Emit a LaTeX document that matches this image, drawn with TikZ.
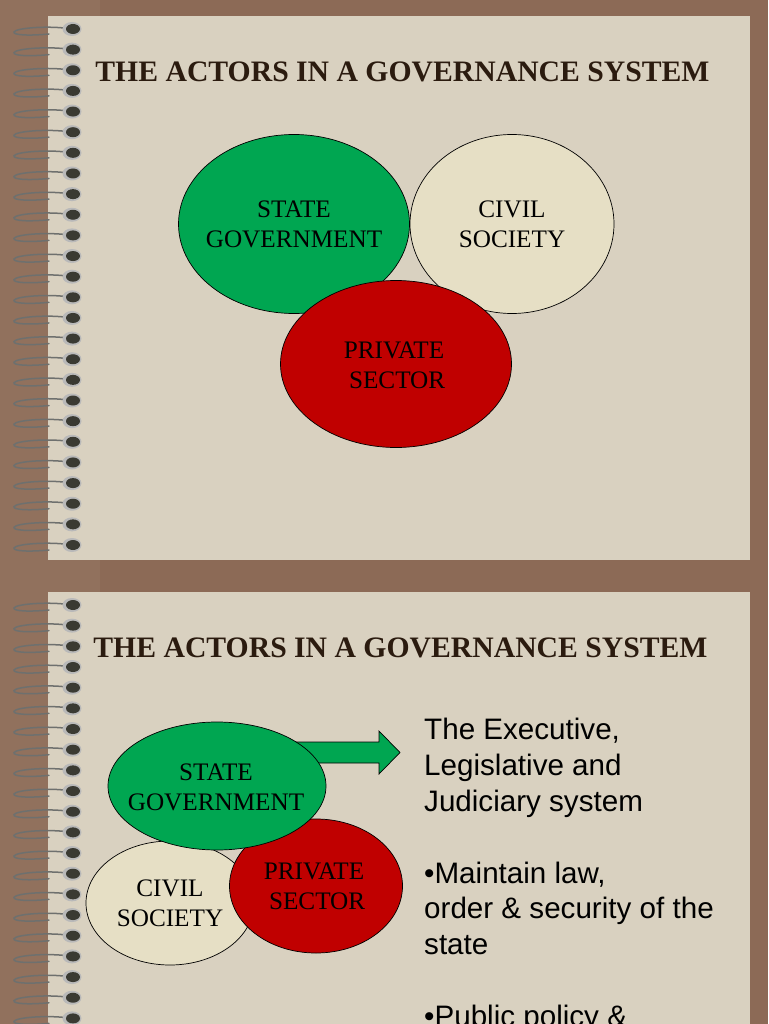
\documentclass[tikz,border=0pt]{standalone}
\usepackage{fontspec}
\setmainfont{Liberation Serif}
\newfontfamily\arialfont{Liberation Sans}
\usetikzlibrary{shapes.geometric}
\definecolor{bgbrown}{HTML}{8C6A56}
\definecolor{stripbrown}{HTML}{91715D}
\definecolor{paper}{HTML}{D9D1C0}
\definecolor{titlebrown}{HTML}{2B1B0F}
\definecolor{govgreen}{HTML}{00A651}
\definecolor{civilbeige}{HTML}{E6DFC5}
\definecolor{privred}{HTML}{C00000}
\definecolor{wire}{HTML}{6E706E}
\definecolor{holedark}{HTML}{3A3A32}
\tikzset{
  actor/.style={ellipse, draw=black, line width=0.7pt, inner sep=0pt},
  actortext/.style={align=center, font=\fontsize{25.2}{30}\selectfont, text=black},
  slidetitle/.style={font=\bfseries\fontsize{29.7}{34}\selectfont, text=titlebrown, anchor=base},
  bodyline/.style={font=\arialfont\fontsize{29.6}{36}\selectfont, anchor=base west, inner sep=0pt, text=black},
  ring/.pic={
    \draw[wire, line width=1.5pt, line cap=round] (49,5) .. controls (28,7) and (13,6) .. (14,3)
       .. controls (16,-1) and (45,-3) .. (64,-1);
    \fill[gray!55] (72,0) ellipse [x radius=9.5pt, y radius=7pt];
    \fill[holedark] (73,0) ellipse [x radius=7pt, y radius=5pt];
  },
}
\begin{document}
\begin{tikzpicture}[x=1pt, y=-1pt]
\useasboundingbox (0,0) rectangle (768,1024);
\clip (0,0) rectangle (768,1024);
% background
\fill[bgbrown] (0,0) rectangle (768,1024);
\fill[stripbrown] (0,0) rectangle (100,1024);
% slides
\fill[paper] (48,16) rectangle (750,560);
\fill[paper] (48,592) rectangle (750,1030);
% spiral rings
\foreach \k in {0,...,25} { \pic at (0,{29+\k*20.64}) {ring}; }
\foreach \k in {0,...,20} { \pic at (0,{605+\k*20.67}) {ring}; }

% ---------- slide 1 ----------
\node[slidetitle] (title1) at (402.5,82) {THE ACTORS IN A GOVERNANCE SYSTEM};
\node[actor, fill=govgreen, minimum width=231pt, minimum height=179pt] (sg1) at (294,224) {};
\node[actortext] (sg1t) at (sg1.center) {STATE\\GOVERNMENT};
\node[actor, fill=civilbeige, minimum width=204pt, minimum height=179pt] (cs1) at (512,224) {};
\node[actortext] (cs1t) at (cs1.center) {CIVIL\\SOCIETY};
\node[actor, fill=privred, minimum width=231pt, minimum height=167pt] (ps1) at (396,364) {};
\node[actortext] (ps1t) at (394,365) {PRIVATE\\\hspace*{0.25em}SECTOR};

% ---------- slide 2 ----------
\node[slidetitle] (title2) at (400.5,657) {THE ACTORS IN A GOVERNANCE SYSTEM};
\coordinate (arrowend) at (400,752.5);
\draw[fill=govgreen, draw=black, line width=0.7pt, line join=miter]
  (290,742) -- (379,742) -- (379,731) -- (arrowend) -- (379,774) -- (379,763) -- (290,763) -- cycle;
\node[actor, fill=civilbeige, minimum width=168pt, minimum height=124pt] (cs2) at (170,903) {};
\node[actortext] (cs2t) at (cs2.center) {CIVIL\\SOCIETY};
\node[actor, fill=privred, minimum width=173pt, minimum height=134pt] (ps2) at (316,886) {};
\node[actortext] (ps2t) at (314,886.5) {PRIVATE\\\hspace*{0.25em}SECTOR};
\node[actor, fill=govgreen, minimum width=218pt, minimum height=128pt] (sg2) at (217,786) {};
\node[actortext] (sg2t) at (216,787) {STATE\\GOVERNMENT};

\node[bodyline] (l1) at (424,739) {The Executive,};
\node[bodyline] (l2) at (424,775) {Legislative and};
\node[bodyline] (l3) at (424,811) {Judiciary system};
\node[bodyline] (l4) at (424,883) {\textbullet Maintain law,};
\node[bodyline] (l5) at (424,918) {order \& security of the};
\node[bodyline] (l6) at (424,954) {state};
\node[bodyline] (l7) at (424,1026) {\textbullet Public policy \&};
\end{tikzpicture}
\end{document}
